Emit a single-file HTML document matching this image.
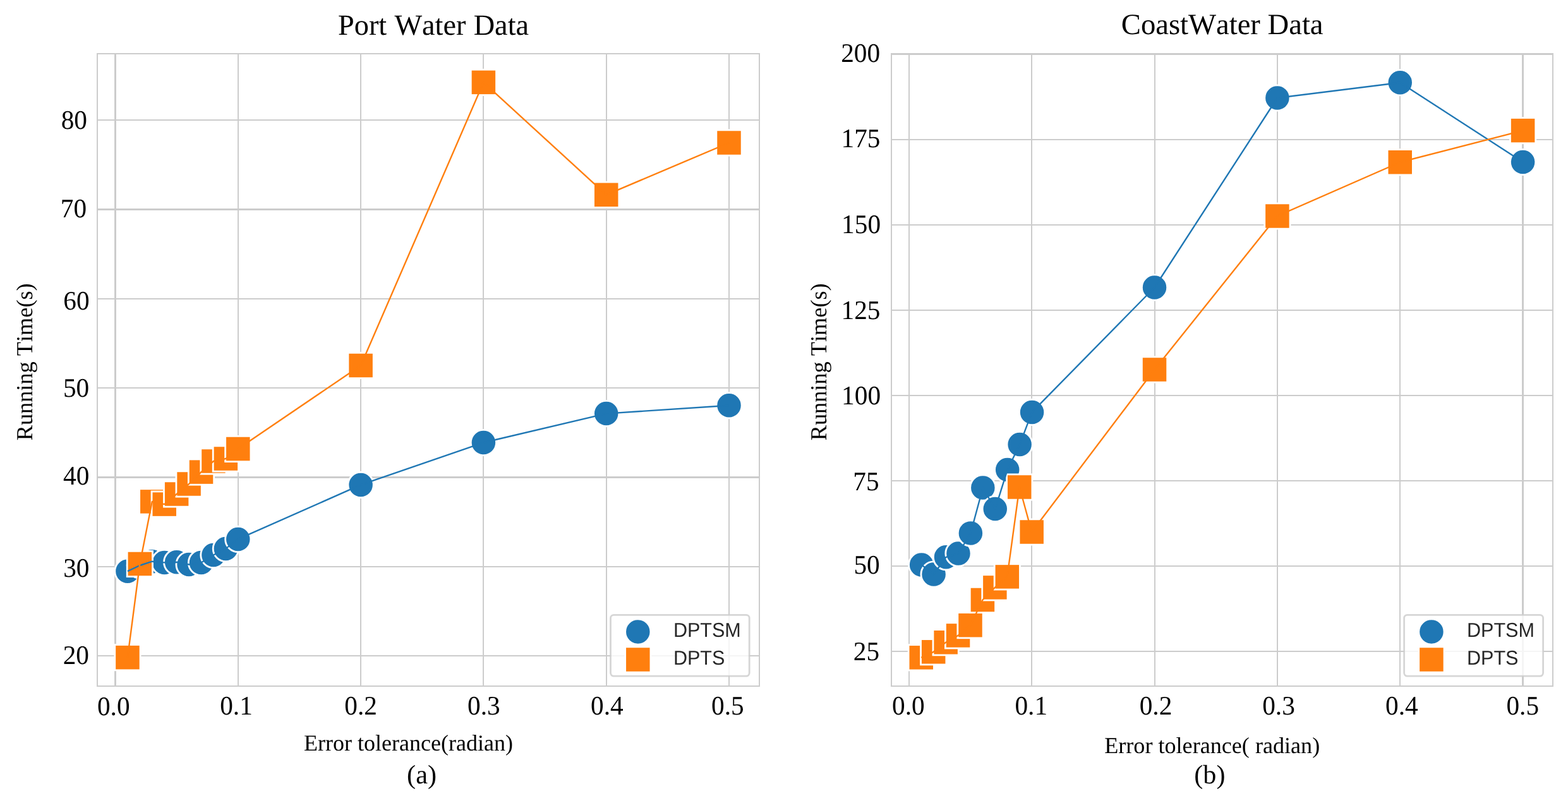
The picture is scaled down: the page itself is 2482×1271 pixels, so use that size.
<!DOCTYPE html>
<html lang="en"><head><meta charset="utf-8"><title>Running time vs error tolerance: Port Water Data and CoastWater Data</title>
<style>html,body{margin:0;padding:0;background:#fff}body{width:2482px;height:1271px;overflow:hidden}svg{display:block}text{white-space:pre;font-kerning:none;text-rendering:geometricPrecision}</style>
</head><body>
<svg width="2482" height="1271" viewBox="0 0 2482 1271">
<rect width="2482" height="1271" fill="#ffffff"/>
<g id="plotA">
<g fill="#cccccc" shape-rendering="crispEdges">
<rect x="181" y="84" width="3" height="1003"/>
<rect x="376" y="84" width="2" height="1003"/>
<rect x="570" y="84" width="2" height="1003"/>
<rect x="764" y="84" width="2" height="1003"/>
<rect x="959" y="84" width="2" height="1003"/>
<rect x="1153" y="84" width="2" height="1003"/>
<rect x="153" y="189" width="1050" height="2"/>
<rect x="153" y="330" width="1050" height="3"/>
<rect x="153" y="472" width="1050" height="2"/>
<rect x="153" y="613" width="1050" height="2"/>
<rect x="153" y="754" width="1050" height="3"/>
<rect x="153" y="896" width="1050" height="2"/>
<rect x="153" y="1037" width="1050" height="2"/>
</g>
<g fill="#1f77b4" stroke="#ffffff" stroke-width="2.8">
<circle cx="201.93" cy="904.2" r="20.15"/>
<circle cx="221.36" cy="895" r="20.15"/>
<circle cx="240.79" cy="888.7" r="20.15"/>
<circle cx="260.22" cy="890.4" r="20.15"/>
<circle cx="279.65" cy="889.8" r="20.15"/>
<circle cx="299.08" cy="893.5" r="20.15"/>
<circle cx="318.51" cy="890.4" r="20.15"/>
<circle cx="337.94" cy="878.5" r="20.15"/>
<circle cx="357.37" cy="868.4" r="20.15"/>
<circle cx="376.8" cy="853.4" r="20.15"/>
<circle cx="571.1" cy="767.4" r="20.15"/>
<circle cx="765.4" cy="700.5" r="20.15"/>
<circle cx="959.7" cy="654.6" r="20.15"/>
<circle cx="1154" cy="641.8" r="20.15"/>
</g>
<g fill="#ff7f0e" stroke="#ffffff" stroke-width="2.8">
<rect x="181.78" y="1020.5" width="40.3" height="40.3"/>
<rect x="201.21" y="872.35" width="40.3" height="40.3"/>
<rect x="220.64" y="773.75" width="40.3" height="40.3"/>
<rect x="240.07" y="777.95" width="40.3" height="40.3"/>
<rect x="259.5" y="761.85" width="40.3" height="40.3"/>
<rect x="278.93" y="745.85" width="40.3" height="40.3"/>
<rect x="298.36" y="726.95" width="40.3" height="40.3"/>
<rect x="317.79" y="709.85" width="40.3" height="40.3"/>
<rect x="337.22" y="705.85" width="40.3" height="40.3"/>
<rect x="356.65" y="690.35" width="40.3" height="40.3"/>
<rect x="550.95" y="558.35" width="40.3" height="40.3"/>
<rect x="745.25" y="110.2" width="40.3" height="40.3"/>
<rect x="939.55" y="288.15" width="40.3" height="40.3"/>
<rect x="1133.85" y="205.85" width="40.3" height="40.3"/>
</g>
<polyline points="201.93,904.2 221.36,895 240.79,888.7 260.22,890.4 279.65,889.8 299.08,893.5 318.51,890.4 337.94,878.5 357.37,868.4 376.8,853.4 571.1,767.4 765.4,700.5 959.7,654.6 1154,641.8" fill="none" stroke="#1f77b4" stroke-width="2.4" stroke-linejoin="round"/>
<polyline points="201.93,1040.65 221.36,892.5 240.79,793.9 260.22,798.1 279.65,782 299.08,766 318.51,747.1 337.94,730 357.37,726 376.8,710.5 571.1,578.5 765.4,130.35 959.7,308.3 1154,226" fill="none" stroke="#ff7f0e" stroke-width="2.4" stroke-linejoin="round"/>
<g fill="#cccccc" shape-rendering="crispEdges">
<rect x="153" y="84" width="2" height="1003"/>
<rect x="1201" y="84" width="2" height="1003"/>
<rect x="153" y="84" width="1050" height="2"/>
<rect x="153" y="1085" width="1050" height="2"/>
</g>
<rect x="966.5" y="973.3" width="219.7" height="96.8" rx="5" ry="5" fill="#ffffff" fill-opacity="0.8" stroke="#cccccc" stroke-opacity="0.8" stroke-width="2.8"/>
<circle cx="1009.8" cy="1000" r="20.15" fill="#1f77b4" stroke="#ffffff" stroke-width="2.8"/>
<rect x="989.65" y="1023.85" width="40.3" height="40.3" fill="#ff7f0e" stroke="#ffffff" stroke-width="2.8"/>
<g font-family="'Liberation Sans', sans-serif" font-size="30.56" fill="#262626">
<text transform="translate(1065.9 1007.7) scale(1 1.04)">DPTSM</text>
<text transform="translate(1065.9 1051.6) scale(1 1.04)">DPTS</text>
</g>
</g>
<g id="plotB">
<g fill="#cccccc" shape-rendering="crispEdges">
<rect x="1438" y="84" width="2" height="1003"/>
<rect x="1632" y="84" width="2" height="1003"/>
<rect x="1827" y="84" width="2" height="1003"/>
<rect x="2021" y="84" width="2" height="1003"/>
<rect x="2215" y="84" width="2" height="1003"/>
<rect x="2409" y="84" width="3" height="1003"/>
<rect x="1410" y="85" width="1049" height="2"/>
<rect x="1410" y="220" width="1049" height="2"/>
<rect x="1410" y="355" width="1049" height="2"/>
<rect x="1410" y="490" width="1049" height="2"/>
<rect x="1410" y="625" width="1049" height="2"/>
<rect x="1410" y="760" width="1049" height="2"/>
<rect x="1410" y="895" width="1049" height="2"/>
<rect x="1410" y="1030" width="1049" height="2"/>
</g>
<g fill="#1f77b4" stroke="#ffffff" stroke-width="2.8">
<circle cx="1458.64" cy="894" r="20.15"/>
<circle cx="1478.07" cy="909" r="20.15"/>
<circle cx="1497.51" cy="881.8" r="20.15"/>
<circle cx="1516.94" cy="876.1" r="20.15"/>
<circle cx="1536.38" cy="844" r="20.15"/>
<circle cx="1555.82" cy="772" r="20.15"/>
<circle cx="1575.25" cy="805.6" r="20.15"/>
<circle cx="1594.69" cy="743.6" r="20.15"/>
<circle cx="1614.12" cy="703.6" r="20.15"/>
<circle cx="1633.56" cy="652.4" r="20.15"/>
<circle cx="1827.52" cy="455" r="20.15"/>
<circle cx="2021.88" cy="155" r="20.15"/>
<circle cx="2216.24" cy="130.7" r="20.15"/>
<circle cx="2410.6" cy="256.5" r="20.15"/>
</g>
<g fill="#ff7f0e" stroke="#ffffff" stroke-width="2.8">
<rect x="1438.09" y="1020.65" width="40.3" height="40.3"/>
<rect x="1457.52" y="1011.65" width="40.3" height="40.3"/>
<rect x="1476.96" y="996.6" width="40.3" height="40.3"/>
<rect x="1496.39" y="985.75" width="40.3" height="40.3"/>
<rect x="1515.83" y="969.55" width="40.3" height="40.3"/>
<rect x="1535.27" y="929.35" width="40.3" height="40.3"/>
<rect x="1554.7" y="909.75" width="40.3" height="40.3"/>
<rect x="1574.14" y="892.75" width="40.3" height="40.3"/>
<rect x="1593.57" y="750.85" width="40.3" height="40.3"/>
<rect x="1613.01" y="821.85" width="40.3" height="40.3"/>
<rect x="1807.37" y="564.85" width="40.3" height="40.3"/>
<rect x="2001.73" y="321.85" width="40.3" height="40.3"/>
<rect x="2196.09" y="236.6" width="40.3" height="40.3"/>
<rect x="2390.45" y="186.45" width="40.3" height="40.3"/>
</g>
<polyline points="1458.64,894 1478.07,909 1497.51,881.8 1516.94,876.1 1536.38,844 1555.82,772 1575.25,805.6 1594.69,743.6 1614.12,703.6 1633.56,652.4 1827.52,455 2021.88,155 2216.24,130.7 2410.6,256.5" fill="none" stroke="#1f77b4" stroke-width="2.4" stroke-linejoin="round"/>
<polyline points="1458.24,1040.8 1477.67,1031.8 1497.11,1016.75 1516.54,1005.9 1535.98,989.7 1555.42,949.5 1574.85,929.9 1594.29,912.9 1613.72,771 1633.16,842 1827.52,585 2021.88,342 2216.24,256.75 2410.6,206.6" fill="none" stroke="#ff7f0e" stroke-width="2.4" stroke-linejoin="round"/>
<g fill="#cccccc" shape-rendering="crispEdges">
<rect x="1410" y="84" width="2" height="1003"/>
<rect x="2457" y="84" width="2" height="1003"/>
<rect x="1410" y="84" width="1049" height="2"/>
<rect x="1410" y="1085" width="1049" height="2"/>
</g>
<rect x="2222.6" y="973.3" width="220" height="96.8" rx="5" ry="5" fill="#ffffff" fill-opacity="0.8" stroke="#cccccc" stroke-opacity="0.8" stroke-width="2.8"/>
<circle cx="2265.9" cy="1000" r="20.15" fill="#1f77b4" stroke="#ffffff" stroke-width="2.8"/>
<rect x="2245.75" y="1023.85" width="40.3" height="40.3" fill="#ff7f0e" stroke="#ffffff" stroke-width="2.8"/>
<g font-family="'Liberation Sans', sans-serif" font-size="30.56" fill="#262626">
<text transform="translate(2322 1007.7) scale(1 1.04)">DPTSM</text>
<text transform="translate(2322 1051.6) scale(1 1.04)">DPTS</text>
</g>
</g>
<g font-family="'Liberation Serif', serif" fill="#000000">
<text transform="translate(96.63 204) scale(0.975 1)" font-size="42.4">80</text>
<text transform="translate(95.85 344) scale(0.975 1)" font-size="42.4">70</text>
<text transform="translate(100.22 490) scale(0.975 1)" font-size="42.4">60</text>
<text transform="translate(99.94 628) scale(0.975 1)" font-size="42.4">50</text>
<text transform="translate(99.96 767) scale(0.975 1)" font-size="42.4">40</text>
<text transform="translate(100.14 913) scale(0.975 1)" font-size="42.4">30</text>
<text transform="translate(99.68 1051) scale(0.975 1)" font-size="42.4">20</text>
<text transform="translate(153.95 1132) scale(0.975 1)" font-size="42.4">0.0</text>
<text transform="translate(348.16 1131) scale(0.975 1)" font-size="42.4">0.1</text>
<text transform="translate(545.21 1131) scale(0.975 1)" font-size="42.4">0.2</text>
<text transform="translate(740.01 1131) scale(0.975 1)" font-size="42.4">0.3</text>
<text transform="translate(935.04 1131) scale(0.975 1)" font-size="42.4">0.4</text>
<text transform="translate(1126.11 1131) scale(0.975 1)" font-size="42.4">0.5</text>
<text transform="translate(1331.15 98) scale(0.975 1)" font-size="42.4">200</text>
<text transform="translate(1331.51 233) scale(0.975 1)" font-size="42.4">175</text>
<text transform="translate(1332.08 369) scale(0.975 1)" font-size="42.4">150</text>
<text transform="translate(1331.51 505) scale(0.975 1)" font-size="42.4">125</text>
<text transform="translate(1332.08 640) scale(0.975 1)" font-size="42.4">100</text>
<text transform="translate(1350.22 776) scale(0.975 1)" font-size="42.4">75</text>
<text transform="translate(1351.44 908) scale(0.975 1)" font-size="42.4">50</text>
<text transform="translate(1350.77 1045) scale(0.975 1)" font-size="42.4">25</text>
<text transform="translate(1412 1131) scale(0.975 1)" font-size="42.4">0.0</text>
<text transform="translate(1606.42 1131) scale(0.975 1)" font-size="42.4">0.1</text>
<text transform="translate(1803.67 1131) scale(0.975 1)" font-size="42.4">0.2</text>
<text transform="translate(1998.13 1131) scale(0.975 1)" font-size="42.4">0.3</text>
<text transform="translate(2193 1131) scale(0.975 1)" font-size="42.4">0.4</text>
<text transform="translate(2384.38 1131) scale(0.975 1)" font-size="42.4">0.5</text>
<text transform="translate(535.03 55)" font-size="46.27" word-spacing="0.7">Port Water Data</text>
<text transform="translate(1774.79 54)" font-size="46.63">CoastWater Data</text>
<text transform="translate(481.05 1188)" font-size="36.04">Error tolerance(radian)</text>
<text transform="translate(1748.21 1192)" font-size="36.14">Error tolerance( radian)</text>
<text transform="translate(51 697.32) rotate(-90)" font-size="36.3">Running Time(s)</text>
<text transform="translate(1308 697.32) rotate(-90)" font-size="36.3">Running Time(s)</text>
<text transform="translate(644.12 1240)" font-size="42.27">(a)</text>
<text transform="translate(1890.31 1240)" font-size="42.14">(b)</text>
</g>
</svg>
</body></html>
